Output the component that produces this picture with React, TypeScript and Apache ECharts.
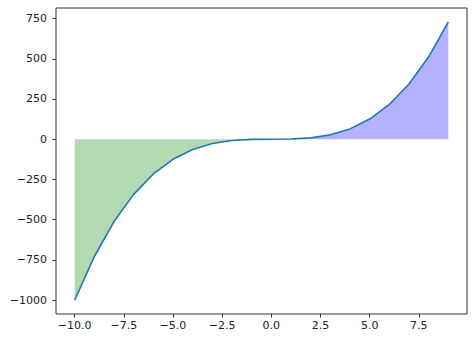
import React, { useEffect, useRef } from "react";
import * as echarts from "echarts";

const xs = [-10, -9, -8, -7, -6, -5, -4, -3, -2, -1, 0, 1, 2, 3, 4, 5, 6, 7, 8, 9];
const ys = [-1000, -729, -512, -343, -216, -125, -64, -27, -8, -1, 0, 1, 8, 27, 64, 125, 216, 343, 512, 729];
const xTicks = [-10, -7.5, -5, -2.5, 0, 2.5, 5, 7.5];
const yTicks = [-1000, -750, -500, -250, 0, 250, 500, 750];

const fmt = (v: number, d: number) => {
  const s = Math.abs(v).toFixed(d);
  return v < 0 ? "\u2212" + s : s;
};

export default function App() {
  const ref = useRef<HTMLDivElement>(null);
  useEffect(() => {
    document.body.style.margin = "0";
    const chart = echarts.init(ref.current!, undefined, { renderer: "svg" });
    const pts = xs.map((x, i) => [x, ys[i]]);
    const neg = pts.filter((p) => p[1] <= 0);
    const pos = pts.filter((p) => p[1] >= 0);
    const xmin = -10.95, xmax = 9.95;
    const yspan = 729 - -1000;
    const ymin = -1000 - 0.05 * yspan, ymax = 729 + 0.05 * yspan;
    const labelStyle = { color: "#222", fontFamily: "DejaVu Sans", fontSize: 11 };
    chart.setOption({
      animation: false,
      backgroundColor: "#fff",
      grid: {
        left: 56, right: 7, top: 8, bottom: 28,
        show: true, borderColor: "#333", borderWidth: 1, backgroundColor: "transparent",
      },
      xAxis: {
        type: "value", min: xmin, max: xmax,
        splitLine: { show: false },
        axisLine: { show: false, onZero: false },
        axisTick: { show: true, inside: false, length: 3.5, lineStyle: { color: "#333", width: 1 }, customValues: xTicks },
        axisLabel: { ...labelStyle, margin: 6, customValues: xTicks, formatter: (v: number) => fmt(v, 1) },
      },
      yAxis: {
        type: "value", min: ymin, max: ymax,
        splitLine: { show: false },
        axisLine: { show: false, onZero: false },
        axisTick: { show: true, inside: false, length: 3.5, lineStyle: { color: "#333", width: 1 }, customValues: yTicks },
        axisLabel: { ...labelStyle, margin: 9, customValues: yTicks, formatter: (v: number) => fmt(v, 0) },
      },
      series: [
        {
          type: "line", data: neg, showSymbol: false, silent: true,
          lineStyle: { width: 0 },
          areaStyle: { color: "#008000", opacity: 0.3, origin: 0 },
          z: 1,
        },
        {
          type: "line", data: pos, showSymbol: false, silent: true,
          lineStyle: { width: 0 },
          areaStyle: { color: "#0000ff", opacity: 0.3, origin: 0 },
          z: 1,
        },
        {
          type: "line", data: pts, showSymbol: false, silent: true,
          lineStyle: { color: "#1f77b4", width: 1.6 },
          z: 3,
        },
      ],
    });
    return () => chart.dispose();
  }, []);
  return <div ref={ref} style={{ width: 474, height: 342 }} />;
}
